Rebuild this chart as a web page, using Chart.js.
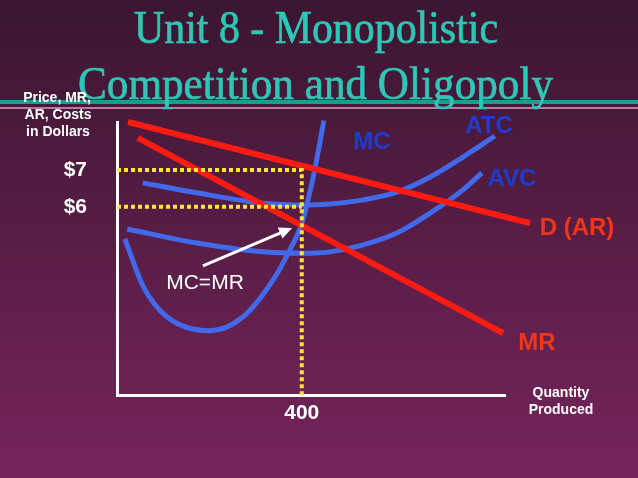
<!DOCTYPE html>
<html>
<head>
<meta charset="utf-8">
<script src="https://cdn.jsdelivr.net/npm/chart.js@4.4.1/dist/chart.umd.min.js"></script>
<style>
  html, body { margin: 0; padding: 0; background: #3a1630; }
  canvas { display: block; }
</style>
</head>
<body>
<canvas id="monopolyChart" width="638" height="478"></canvas>
<script>
// quantity / price ticks
const quantityTicks = [400];
const priceTicks = [6, 7];

// profit-maximising point (MC = MR)
const outputQ = 400;
const priceP = 7;
const atcP = 6;

// curves (x = quantity, y = dollars)
const demandAR = [{ x: 24, y: 8.3 }, { x: 894, y: 5.56 }];
const marginalRevenue = [{ x: 45, y: 7.87 }, { x: 836, y: 2.58 }];
const marginalCost = [
  { x: 17, y: 5.13 }, { x: 57, y: 3.84 }, { x: 108, y: 3.02 }, { x: 201, y: 2.64 },
  { x: 273, y: 3.02 }, { x: 338, y: 4.02 }, { x: 374, y: 4.83 }, { x: 400, y: 5.55 },
  { x: 425, y: 6.82 }, { x: 448, y: 8.34 }
];
const averageTotalCost = [
  { x: 56, y: 6.65 }, { x: 173, y: 6.38 }, { x: 316, y: 6.1 }, { x: 403, y: 6.05 },
  { x: 461, y: 6.08 }, { x: 533, y: 6.19 }, { x: 606, y: 6.4 }, { x: 678, y: 6.81 },
  { x: 749, y: 7.35 }, { x: 818, y: 7.92 }
];
const averageVariableCost = [
  { x: 22, y: 5.4 }, { x: 173, y: 5.02 }, { x: 316, y: 4.78 }, { x: 403, y: 4.74 },
  { x: 461, y: 4.78 }, { x: 533, y: 4.97 }, { x: 606, y: 5.29 }, { x: 678, y: 5.83 },
  { x: 749, y: 6.46 }, { x: 790, y: 6.92 }
];

const RED = '#ff1a12';
const BLUE = '#4169ea';
const YELLOW = '#ffe53a';

function curve(data, color, width) {
  return {
    data: data,
    showLine: true,
    borderColor: color,
    borderWidth: width,
    pointRadius: 0,
    cubicInterpolationMode: 'monotone',
    clip: false
  };
}

function dotted(data) {
  return {
    data: data,
    showLine: true,
    borderColor: YELLOW,
    borderWidth: 4,
    borderDash: [4, 3],
    borderCapStyle: 'butt',
    pointRadius: 0,
    clip: false
  };
}

const slideDecor = {
  id: 'slideDecor',
  beforeDraw(chart) {
    const c = chart.ctx;
    const w = chart.width, h = chart.height;
    c.save();
    const g = c.createLinearGradient(0, 0, 0, h);
    g.addColorStop(0, '#3a1630');
    g.addColorStop(1, '#76245b');
    c.fillStyle = g;
    c.fillRect(0, 0, w, h);
    c.fillStyle = '#1c9e8f';
    c.fillRect(0, 100, w, 4);
    c.fillStyle = '#b87aa2';
    c.fillRect(0, 107, w, 2);

    // title
    c.fillStyle = '#2fc6b6';
    c.strokeStyle = '#2fc6b6';
    c.lineWidth = 0.7;
    c.textAlign = 'left';
    c.textBaseline = 'alphabetic';
    c.font = '46px "Liberation Serif"';
    const lines = [
      { text: 'Unit 8 - Monopolistic', x: 134, w: 364, y: 43 },
      { text: 'Competition and Oligopoly', x: 78, w: 475, y: 99 }
    ];
    lines.forEach(l => {
      const m = c.measureText(l.text).width;
      c.save();
      c.translate(l.x, l.y);
      c.scale(l.w / m, 1);
      c.fillText(l.text, 0, 0);
      c.strokeText(l.text, 0, 0);
      c.restore();
    });
    c.restore();
  },
  afterDraw(chart) {
    const c = chart.ctx;
    const xs = chart.scales.x, ys = chart.scales.y;
    c.save();

    // arrow pointing at MC = MR
    const x0 = xs.getPixelForValue(186), y0 = ys.getPixelForValue(4.4);
    const x1 = xs.getPixelForValue(379), y1 = ys.getPixelForValue(5.43);
    const ang = Math.atan2(y1 - y0, x1 - x0);
    c.strokeStyle = '#ffffff';
    c.fillStyle = '#ffffff';
    c.lineWidth = 3;
    c.beginPath();
    c.moveTo(x0, y0);
    c.lineTo(x1 - 8 * Math.cos(ang), y1 - 8 * Math.sin(ang));
    c.stroke();
    c.beginPath();
    c.moveTo(x1, y1);
    c.lineTo(x1 - 13 * Math.cos(ang) + 6 * Math.sin(ang), y1 - 13 * Math.sin(ang) - 6 * Math.cos(ang));
    c.lineTo(x1 - 13 * Math.cos(ang) - 6 * Math.sin(ang), y1 - 13 * Math.sin(ang) + 6 * Math.cos(ang));
    c.closePath();
    c.fill();

    c.textAlign = 'center';
    c.textBaseline = 'middle';
    c.font = '21px "Liberation Sans"';
    c.fillText('MC=MR', 205, 283);

    // curve labels
    c.font = 'bold 24px "Liberation Sans"';
    c.fillStyle = '#1f3ccc';
    c.fillText('MC', 372, 142);
    c.fillText('ATC', 489, 126);
    c.fillText('AVC', 512, 179);
    c.fillStyle = '#ee3618';
    c.fillText('D (AR)', 577, 228);
    c.fillText('MR', 537, 343);

    // axis titles
    c.fillStyle = '#ffffff';
    c.font = 'bold 14px "Liberation Sans"';
    c.fillText('Price, MR,', 57, 98);
    c.fillText('AR, Costs', 58, 115);
    c.fillText('in Dollars', 58, 132);
    c.fillText('Quantity', 561, 393);
    c.fillText('Produced', 561, 410);
    c.restore();
  }
};

new Chart(document.getElementById('monopolyChart'), {
  type: 'scatter',
  data: {
    datasets: [
      dotted([{ x: 0, y: priceP }, { x: outputQ, y: priceP }, { x: outputQ, y: 0.9 }]),
      dotted([{ x: 0, y: atcP }, { x: outputQ, y: atcP }]),
      curve(demandAR, RED, 6),
      curve(marginalRevenue, RED, 6),
      curve(averageTotalCost, BLUE, 5),
      curve(averageVariableCost, BLUE, 5),
      curve(marginalCost, BLUE, 5)
    ]
  },
  options: {
    responsive: false,
    animation: false,
    devicePixelRatio: 1,
    layout: { padding: { left: 0, top: 122, right: 133, bottom: 0 } },
    plugins: { legend: { display: false }, tooltip: { enabled: false } },
    scales: {
      x: {
        type: 'linear',
        min: 0,
        max: 840,
        grid: { display: false, drawTicks: false, tickLength: 0 },
        border: { display: true, color: '#ffffff', width: 3 },
        afterBuildTicks: s => { s.ticks = quantityTicks.map(v => ({ value: v })); },
        afterFit: s => { s.height = 83; },
        ticks: {
          color: '#ffffff',
          padding: 6,
          autoSkip: false,
          maxRotation: 0,
          font: { family: 'Liberation Sans', size: 21, weight: 'bold' }
        }
      },
      y: {
        type: 'linear',
        min: 0.9,
        max: 8.3,
        grid: { display: false, drawTicks: false, tickLength: 0 },
        border: { display: true, color: '#ffffff', width: 3 },
        afterBuildTicks: s => { s.ticks = priceTicks.map(v => ({ value: v })); },
        afterFit: s => { s.width = 117; },
        ticks: {
          color: '#ffffff',
          padding: 30,
          autoSkip: false,
          callback: v => '$' + v,
          font: { family: 'Liberation Sans', size: 21, weight: 'bold' }
        }
      }
    }
  },
  plugins: [slideDecor]
});
</script>
</body>
</html>
